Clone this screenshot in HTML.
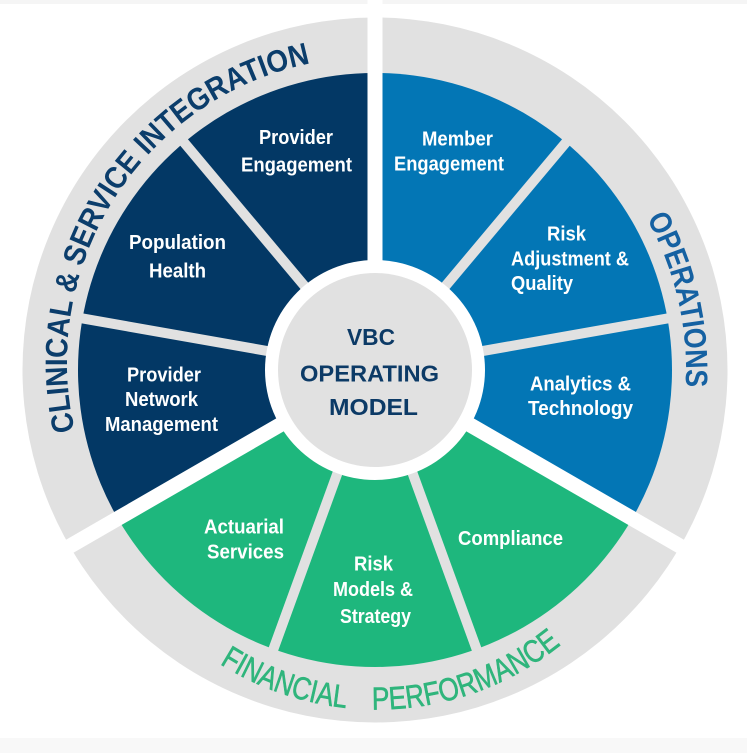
<!DOCTYPE html>
<html>
<head>
<meta charset="utf-8">
<style>
  html, body { margin: 0; padding: 0; background: #ffffff; }
  body { width: 747px; height: 753px; overflow: hidden; }
  svg { display: block; }
  .lbl { font-family: "Liberation Sans", Arial, sans-serif; font-weight: bold; font-size: 20px; fill: #ffffff; }
  .ctr { font-family: "Liberation Sans", Arial, sans-serif; font-weight: bold; font-size: 23px; fill: #0c3a66; }
  .ring { font-family: "Liberation Sans", Arial, sans-serif; font-size: 31px; }
  .fin { font-family: "Liberation Sans", Arial, sans-serif; font-size: 32px; }
</style>
</head>
<body>
<svg width="747" height="753" viewBox="0 0 747 753" xmlns="http://www.w3.org/2000/svg">
  <defs>
    <path id="pClin" d="M 74.82 430.61 A 305 305 0 0 1 372 57"/>
    <path id="pOps" d="M 646.63 218.53 A 311 311 0 0 1 681.28 424.0"/>
    <path id="pFin" d="M 208.65 656.42 A 293.5 293.5 0 0 0 584.54 623.54"/>
  </defs>

  <rect x="0" y="0" width="747" height="753" fill="#ffffff"/>
  <rect x="0" y="0" width="747" height="4" fill="#f5f5f5"/>
  <rect x="0" y="738" width="747" height="15" fill="#f8f8f8"/>

  <!-- outer gray ring -->
  <circle cx="375" cy="370" r="352.5" fill="#e1e1e1"/>

  <!-- colored group wedges -->
  <path d="M375 370 L117.79 518.5 A297 297 0 0 1 375 73 Z" fill="#033865"/>
  <path d="M375 370 L375 73 A297 297 0 0 1 632.21 518.5 Z" fill="#0376b5"/>
  <path d="M375 370 L632.21 518.5 A297 297 0 0 1 117.79 518.5 Z" fill="#1eb77d"/>

  <!-- gray separators -->
  <g stroke="#e1e1e1" stroke-width="10">
    <line x1="375" y1="370" x2="580.69" y2="124.87"/>
    <line x1="375" y1="370" x2="690.14" y2="314.43"/>
    <line x1="375" y1="370" x2="484.45" y2="670.70"/>
    <line x1="375" y1="370" x2="265.55" y2="670.70"/>
    <line x1="375" y1="370" x2="59.86" y2="314.43"/>
    <line x1="375" y1="370" x2="169.31" y2="124.87"/>
  </g>

  <!-- white group gaps -->
  <g stroke="#ffffff" stroke-width="15">
    <line x1="375" y1="370" x2="375" y2="-10"/>
    <line x1="375" y1="370" x2="704.09" y2="560"/>
    <line x1="375" y1="370" x2="45.91" y2="560"/>
  </g>

  <!-- center -->
  <circle cx="375" cy="370" r="110" fill="#ffffff"/>
  <circle cx="375" cy="370" r="97" fill="#e1e1e1"/>

  <text class="ctr" x="347" y="345" textLength="48" lengthAdjust="spacingAndGlyphs">VBC</text>
  <text class="ctr" x="300" y="381.7" textLength="139" lengthAdjust="spacingAndGlyphs">OPERATING</text>
  <text class="ctr" x="329" y="415" textLength="89" lengthAdjust="spacingAndGlyphs">MODEL</text>

  <!-- segment labels: clinical -->
  <text class="lbl" x="259" y="144" textLength="74" lengthAdjust="spacingAndGlyphs">Provider</text>
  <text class="lbl" x="241" y="171.5" textLength="111" lengthAdjust="spacingAndGlyphs">Engagement</text>
  <text class="lbl" x="129" y="249" textLength="97" lengthAdjust="spacingAndGlyphs">Population</text>
  <text class="lbl" x="149" y="277.5" textLength="57" lengthAdjust="spacingAndGlyphs">Health</text>
  <text class="lbl" x="127" y="381.5" textLength="74" lengthAdjust="spacingAndGlyphs">Provider</text>
  <text class="lbl" x="125" y="406" textLength="73" lengthAdjust="spacingAndGlyphs">Network</text>
  <text class="lbl" x="105" y="431" textLength="113" lengthAdjust="spacingAndGlyphs">Management</text>

  <!-- segment labels: operations -->
  <text class="lbl" x="422" y="145.5" textLength="71" lengthAdjust="spacingAndGlyphs">Member</text>
  <text class="lbl" x="394" y="170.5" textLength="110" lengthAdjust="spacingAndGlyphs">Engagement</text>
  <text class="lbl" x="547" y="240.5" textLength="39" lengthAdjust="spacingAndGlyphs">Risk</text>
  <text class="lbl" x="511" y="265.5" textLength="118" lengthAdjust="spacingAndGlyphs">Adjustment &amp;</text>
  <text class="lbl" x="511" y="290" textLength="62" lengthAdjust="spacingAndGlyphs">Quality</text>
  <text class="lbl" x="530" y="390.7" textLength="101" lengthAdjust="spacingAndGlyphs">Analytics &amp;</text>
  <text class="lbl" x="528" y="415" textLength="105" lengthAdjust="spacingAndGlyphs">Technology</text>

  <!-- segment labels: financial -->
  <text class="lbl" x="204" y="533.3" textLength="80" lengthAdjust="spacingAndGlyphs">Actuarial</text>
  <text class="lbl" x="207" y="558.3" textLength="77" lengthAdjust="spacingAndGlyphs">Services</text>
  <text class="lbl" x="354" y="570.7" textLength="39" lengthAdjust="spacingAndGlyphs">Risk</text>
  <text class="lbl" x="333" y="596" textLength="80" lengthAdjust="spacingAndGlyphs">Models &amp;</text>
  <text class="lbl" x="340" y="623" textLength="71" lengthAdjust="spacingAndGlyphs">Strategy</text>
  <text class="lbl" x="458" y="545" textLength="105" lengthAdjust="spacingAndGlyphs">Compliance</text>

  <!-- ring labels -->
  <text class="ring" font-weight="bold" fill="#0b3d6b">
    <textPath href="#pClin" startOffset="0" textLength="486" lengthAdjust="spacingAndGlyphs">CLINICAL &amp; SERVICE INTEGRATION</textPath>
  </text>
  <text class="ring" font-weight="bold" fill="#1561a2">
    <textPath href="#pOps" startOffset="0" textLength="175" lengthAdjust="spacingAndGlyphs">OPERATIONS</textPath>
  </text>
  <text class="fin" fill="#2fb57c" stroke="#2fb57c" stroke-width="0.6">
    <textPath href="#pFin" startOffset="13.3" textLength="135" lengthAdjust="spacingAndGlyphs">FINANCIAL</textPath>
  </text>
  <text class="fin" fill="#2fb57c" stroke="#2fb57c" stroke-width="0.6">
    <textPath href="#pFin" startOffset="174.2" textLength="204" lengthAdjust="spacingAndGlyphs">PERFORMANCE</textPath>
  </text>
</svg>
</body>
</html>
